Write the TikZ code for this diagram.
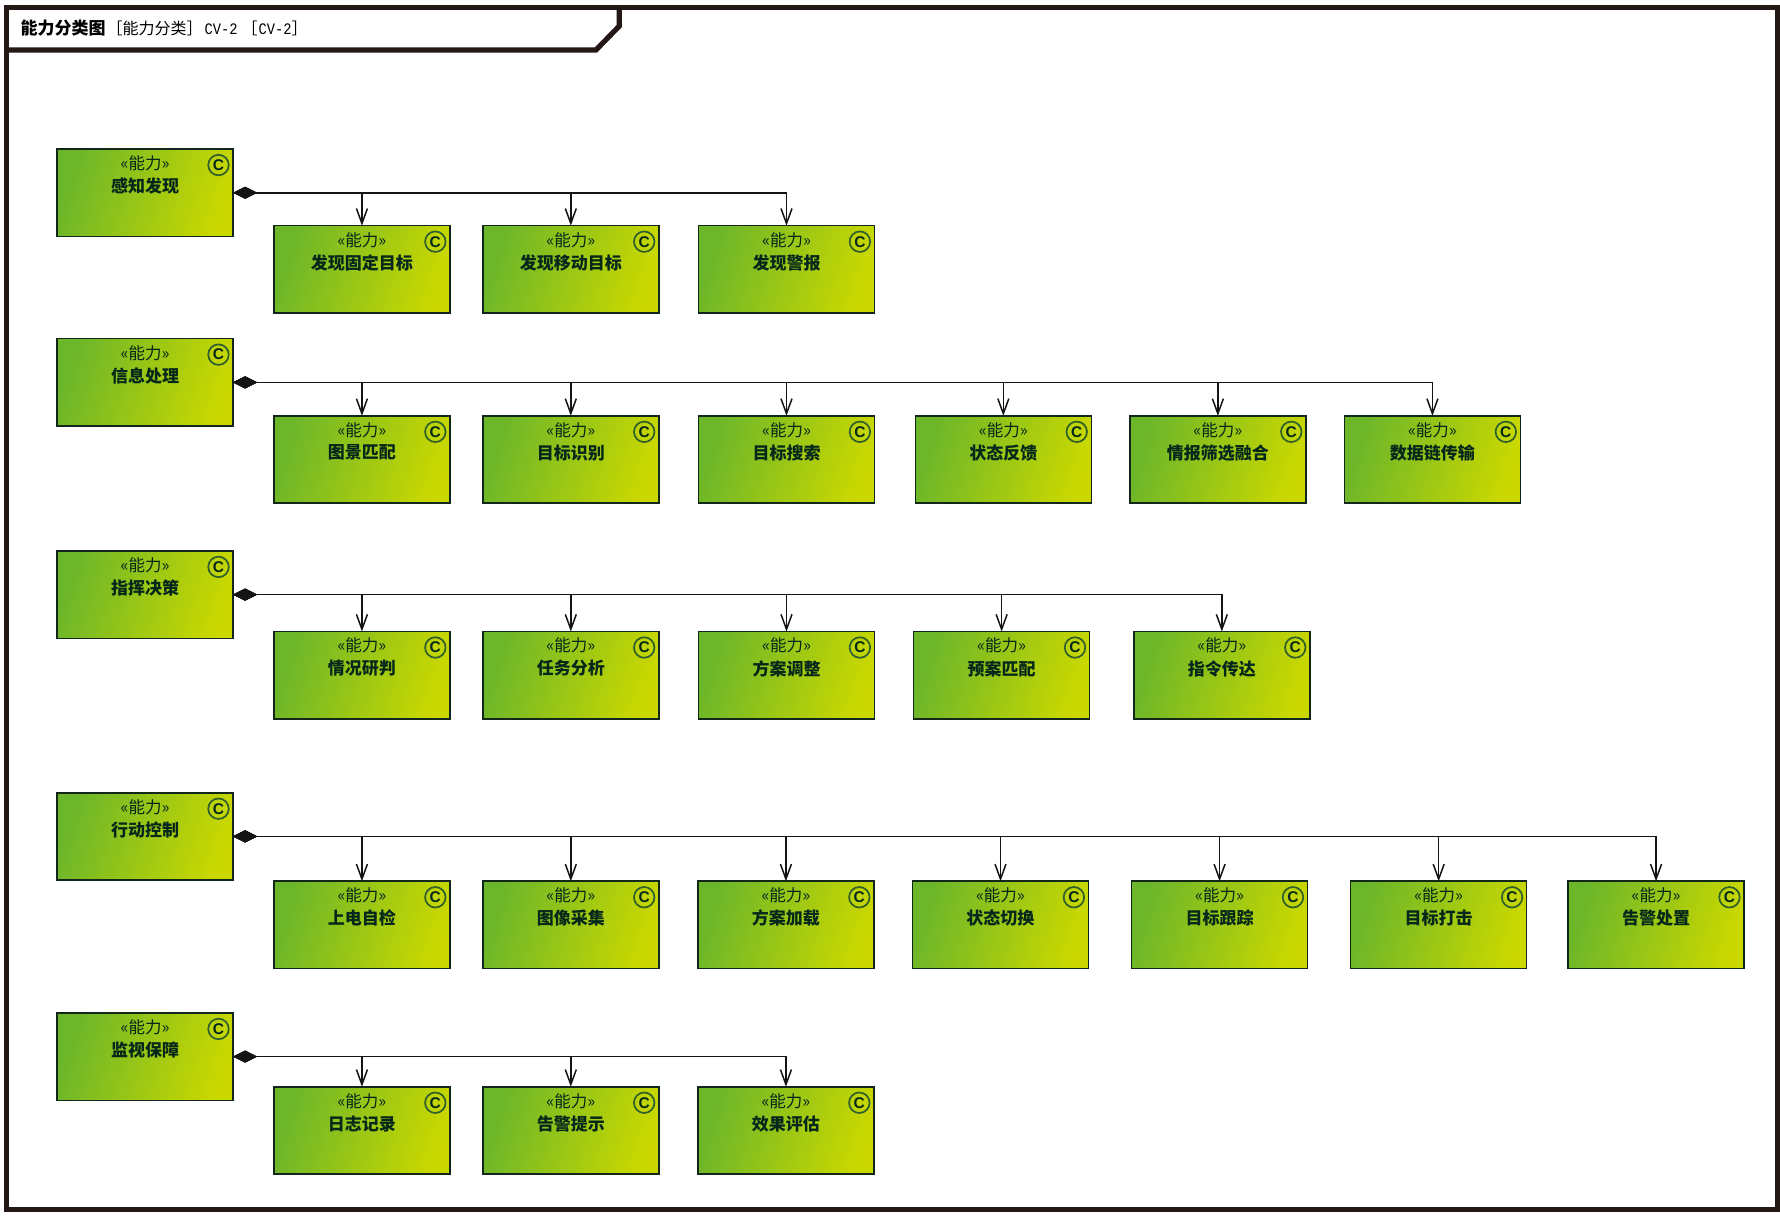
\documentclass[tikz,border=0pt]{standalone}
\usepackage{fontspec}
\setmainfont{Noto Sans CJK SC}
\newfontfamily\monof[FakeStretch=0.86]{Liberation Mono}
\newfontfamily\iconf{Liberation Sans}
\usetikzlibrary{arrows.meta}
\definecolor{framecol}{HTML}{231815}
\definecolor{boxline}{HTML}{12261A}
\definecolor{gleft}{HTML}{6CB62A}
\definecolor{gright}{HTML}{CAD800}
\definecolor{icn}{HTML}{2F5F2A}
\definecolor{txt}{HTML}{06281A}
\tikzset{
  capbox/.style={draw=boxline,line width=1.6pt,rectangle,anchor=north west,inner sep=0pt,outer sep=0pt,
    left color=gleft,right color=gright,shading angle=72,text=txt},
  capicon/.style={circle,draw=icn,line width=1.7pt,minimum size=20.5pt,inner sep=0pt,text=txt,font=\iconf\bfseries\fontsize{15.5}{15.5}\selectfont},
  comp/.style={draw=black!92,line width=1.6pt,{Diamond[length=24pt,width=12pt]}-{Straight Barb[length=15pt,width=11pt,line width=1.5pt]}},
  frameline/.style={draw=framecol,line width=5.2pt,line join=miter},
}
\newcommand{\capnode}[4]{%
  \node[capbox] (#1) at (#2,#3) {\parbox[c][87.4pt][t]{176pt}{\centering\vspace{6.5pt}%
    {\fontsize{16.5}{20}\selectfont «能力»}\\[6pt]
    {\fontsize{17}{20}\selectfont\bfseries #4}}};
  \node[capicon] (#1i) at ([xshift=-14.6pt,yshift=-16pt]#1.north east) {C};
}
\begin{document}
\begin{tikzpicture}[x=1.13520pt,y=-1.13520pt]
\useasboundingbox (0,0) rectangle (1568,1075.6);
\fill[white] (0,0) rectangle (1568,1075.6);
\draw[frameline] (5.5,6.5) rectangle (1565.5,1065.5);
\draw[frameline] (5.5,44) -- (525,44) -- (545.5,23) -- (545.5,6.5);
\node[anchor=west,inner sep=0pt,font=\fontsize{16}{18}\selectfont] (title) at (18,24.5)
  {{\bfseries\fontsize{17}{18}\selectfont 能力分类图}\hspace{1pt}［能力分类］\hspace{2pt}{\monof CV-2}\hspace{4pt}［\hspace{1pt}{\monof CV-2}］};

\capnode{p1}{50.3}{131.3}{感知发现}
\capnode{a1}{241.3}{198.8}{发现固定目标}
\capnode{a2}{425.3}{198.8}{发现移动目标}
\capnode{a3}{615.3}{198.8}{发现警报}
\foreach \c in {a1,a2,a3} \draw[comp] (p1.east) -| (\c.north);

\capnode{p2}{50.3}{298.3}{信息处理}
\capnode{b1}{241.3}{366.3}{图景匹配}
\capnode{b2}{425.3}{366.3}{目标识别}
\capnode{b3}{615.3}{366.3}{目标搜索}
\capnode{b4}{806.3}{366.3}{状态反馈}
\capnode{b5}{995.3}{366.3}{情报筛选融合}
\capnode{b6}{1184.3}{366.3}{数据链传输}
\foreach \c in {b1,b2,b3,b4,b5,b6} \draw[comp] (p2.east) -| (\c.north);

\capnode{p3}{50.3}{485.3}{指挥决策}
\capnode{d1}{241.3}{556.3}{情况研判}
\capnode{d2}{425.3}{556.3}{任务分析}
\capnode{d3}{615.3}{556.3}{方案调整}
\capnode{d4}{804.8}{556.3}{预案匹配}
\capnode{d5}{998.8}{556.3}{指令传达}
\foreach \c in {d1,d2,d3,d4,d5} \draw[comp] (p3.east) -| (\c.north);

\capnode{p4}{50.3}{698.3}{行动控制}
\capnode{e1}{241.3}{776.3}{上电自检}
\capnode{e2}{425.3}{776.3}{图像采集}
\capnode{e3}{614.8}{776.3}{方案加载}
\capnode{e4}{803.8}{776.3}{状态切换}
\capnode{e5}{996.8}{776.3}{目标跟踪}
\capnode{e6}{1189.8}{776.3}{目标打击}
\capnode{e7}{1381.3}{776.3}{告警处置}
\foreach \c in {e1,e2,e3,e4,e5,e6,e7} \draw[comp] (p4.east) -| (\c.north);

\capnode{p5}{50.3}{892.3}{监视保障}
\capnode{f1}{241.3}{957.3}{日志记录}
\capnode{f2}{425.3}{957.3}{告警提示}
\capnode{f3}{614.8}{957.3}{效果评估}
\foreach \c in {f1,f2,f3} \draw[comp] (p5.east) -| (\c.north);
\end{tikzpicture}
\end{document}
